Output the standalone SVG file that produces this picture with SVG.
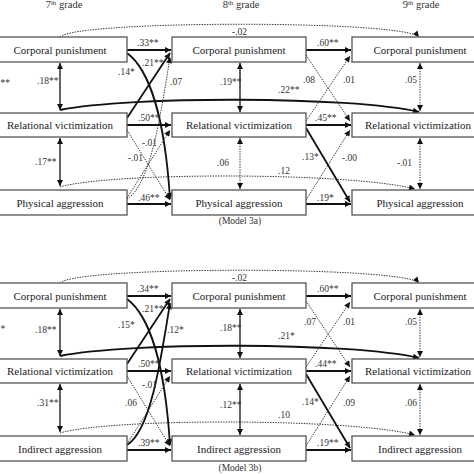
<svg xmlns="http://www.w3.org/2000/svg" width="474" height="474" viewBox="0 0 474 474">
<defs>
<marker id="ah" viewBox="0 0 10 10" refX="10" refY="5" markerWidth="7" markerHeight="6" markerUnits="userSpaceOnUse" orient="auto-start-reverse"><path d="M0,0 L10,5 L0,10 z" fill="#111"/></marker>
<style>
.box{fill:#fff;stroke:#555;stroke-width:1.3}
.lbl{font-family:"Liberation Serif","Times New Roman",serif;font-size:11px;fill:#222;text-anchor:middle}
.c{font-family:"Liberation Serif","Times New Roman",serif;font-size:9.5px;fill:#333}
.g{font-family:"Liberation Serif","Times New Roman",serif;font-size:10.5px;fill:#333;text-anchor:middle}
.th{fill:none;stroke:#111;stroke-width:1.8;marker-end:url(#ah)}
.tn{fill:none;stroke:#111;stroke-width:1.3;marker-end:url(#ah)}
.dt{fill:none;stroke:#333;stroke-width:1;stroke-dasharray:1.4 1.2;marker-end:url(#ah)}
.dbl{marker-start:url(#ah)}
</style>
</defs>
<rect width="474" height="474" fill="#fff"/>
<g id="headers">
<text class="g" x="64" y="8">7<tspan font-size="7" dy="-3">th</tspan><tspan dy="3"> grade</tspan></text>
<text class="g" x="241" y="8">8<tspan font-size="7" dy="-3">th</tspan><tspan dy="3"> grade</tspan></text>
<text class="g" x="421" y="8">9<tspan font-size="7" dy="-3">th</tspan><tspan dy="3"> grade</tspan></text>
</g>
<g id="model3a">
<g id="connectors-a">
<path class="dt" d="M60,37 C75,20 405,20 419,37"/>
<path class="th" d="M60,110 C130,96 350,96 419,112"/>
<path class="dt" d="M60,187 C110,172 350,172 415,189"/>
<path class="tn dbl" d="M60,63 V110"/>
<path class="tn dbl" d="M60,138 V186"/>
<path class="tn dbl" d="M240,63 V112"/>
<path class="dt dbl" d="M240,138 V189"/>
<path class="dt dbl" d="M420,63 V111"/>
<path class="dt dbl" d="M420,138 V189"/>
<path class="th" d="M127,50 H171"/>
<path class="th" d="M127,125 H171"/>
<path class="th" d="M127,204 H171"/>
<path class="th" d="M127,118 L170,53"/>
<path class="th" d="M127,53 C150,70 165,120 170,199"/>
<path class="dt" d="M127,199 C150,185 160,120 170,57"/>
<path class="dt" d="M127,130 L170,200"/>
<path class="dt" d="M127,198 L170,130"/>
<path class="th" d="M306,50 H351"/>
<path class="th" d="M306,125 H351"/>
<path class="th" d="M306,204 H351"/>
<path class="dt" d="M306,55 L350,121"/>
<path class="dt" d="M306,121 L350,56"/>
<path class="th" d="M306,128 L350,202"/>
<path class="dt" d="M306,200 L350,130"/>
</g>
<g id="cp1a"><rect class="box" x="-2" y="37" width="129" height="25"/><text class="lbl" x="60" y="53.5">Corporal punishment</text></g>
<g id="rv1a"><rect class="box" x="-2" y="113" width="129" height="24"/><text class="lbl" x="60" y="129">Relational victimization</text></g>
<g id="pa1a"><rect class="box" x="-2" y="190" width="129" height="25"/><text class="lbl" x="60" y="206.5">Physical aggression</text></g>
<g id="cp2a"><rect class="box" x="172" y="37" width="134" height="25"/><text class="lbl" x="239" y="53.5">Corporal punishment</text></g>
<g id="rv2a"><rect class="box" x="172" y="113" width="134" height="24"/><text class="lbl" x="239" y="129">Relational victimization</text></g>
<g id="pa2a"><rect class="box" x="172" y="190" width="134" height="25"/><text class="lbl" x="239" y="206.5">Physical aggression</text></g>
<g id="cp3a"><rect class="box" x="352" y="37" width="126" height="25"/><text class="lbl" x="420" y="53.5">Corporal punishment</text></g>
<g id="rv3a"><rect class="box" x="352" y="113" width="126" height="24"/><text class="lbl" x="418" y="129" font-size="10.5">Relational victimization</text></g>
<g id="pa3a"><rect class="box" x="352" y="190" width="126" height="25"/><text class="lbl" x="420" y="206.5">Physical aggression</text></g>
<g id="labels-a">
<text class="c" x="0.5" y="86">**</text>
<text class="c" x="232" y="35">-.02</text>
<text class="c" x="37" y="84">.18**</text>
<text class="c" x="137" y="46">.33**</text>
<text class="c" x="142" y="66">.21**</text>
<text class="c" x="118" y="75">.14*</text>
<text class="c" x="170" y="85">.07</text>
<text class="c" x="220" y="85">.19**</text>
<text class="c" x="278" y="93">.22**</text>
<text class="c" x="317" y="46">.60**</text>
<text class="c" x="303" y="83">.08</text>
<text class="c" x="343" y="83">.01</text>
<text class="c" x="405" y="83">.05</text>
<text class="c" x="138" y="121">.50**</text>
<text class="c" x="142" y="146">-.01</text>
<text class="c" x="128" y="161">-.01</text>
<text class="c" x="35" y="165">.17**</text>
<text class="c" x="217" y="166">.06</text>
<text class="c" x="278" y="174">.12</text>
<text class="c" x="302" y="160">.13*</text>
<text class="c" x="315" y="121">.45**</text>
<text class="c" x="342" y="161">-.00</text>
<text class="c" x="397" y="166">-.01</text>
<text class="c" x="138" y="201">.46**</text>
<text class="c" x="317" y="201">.19*</text>
<text class="c" x="240" y="224" text-anchor="middle" font-size="9">(Model 3a)</text>
</g>
</g>
<g id="model3b">
<g id="connectors-b" transform="translate(0,246)">
<path class="dt" d="M60,37 C75,20 405,20 419,37"/>
<path class="th" d="M60,110 C130,96 350,96 419,112"/>
<path class="dt" d="M60,187 C110,172 350,172 415,189"/>
<path class="tn dbl" d="M60,63 V110"/>
<path class="tn dbl" d="M60,138 V186"/>
<path class="tn dbl" d="M240,63 V112"/>
<path class="tn dbl" d="M240,138 V189"/>
<path class="dt dbl" d="M420,63 V111"/>
<path class="dt dbl" d="M420,138 V189"/>
<path class="th" d="M127,50 H171"/>
<path class="th" d="M127,125 H171"/>
<path class="th" d="M127,204 H171"/>
<path class="th" d="M127,118 L170,53"/>
<path class="th" d="M127,53 C150,70 165,120 170,199"/>
<path class="th" d="M127,199 C150,185 160,120 170,57"/>
<path class="dt" d="M127,130 L170,200"/>
<path class="dt" d="M127,198 L170,130"/>
<path class="th" d="M306,50 H351"/>
<path class="th" d="M306,125 H351"/>
<path class="th" d="M306,204 H351"/>
<path class="dt" d="M306,55 L350,121"/>
<path class="dt" d="M306,121 L350,56"/>
<path class="th" d="M306,128 L350,202"/>
<path class="dt" d="M306,200 L350,130"/>
</g>
<g id="cp1b"><rect class="box" x="-2" y="283" width="129" height="25"/><text class="lbl" x="60" y="299.5">Corporal punishment</text></g>
<g id="rv1b"><rect class="box" x="-2" y="359" width="129" height="24"/><text class="lbl" x="60" y="375">Relational victimization</text></g>
<g id="ia1b"><rect class="box" x="-2" y="436" width="129" height="25"/><text class="lbl" x="60" y="452.5">Indirect aggression</text></g>
<g id="cp2b"><rect class="box" x="172" y="283" width="134" height="25"/><text class="lbl" x="239" y="299.5">Corporal punishment</text></g>
<g id="rv2b"><rect class="box" x="172" y="359" width="134" height="24"/><text class="lbl" x="239" y="375">Relational victimization</text></g>
<g id="ia2b"><rect class="box" x="172" y="436" width="134" height="25"/><text class="lbl" x="239" y="452.5">Indirect aggression</text></g>
<g id="cp3b"><rect class="box" x="352" y="283" width="126" height="25"/><text class="lbl" x="420" y="299.5">Corporal punishment</text></g>
<g id="rv3b"><rect class="box" x="352" y="359" width="126" height="24"/><text class="lbl" x="418" y="375" font-size="10.5">Relational victimization</text></g>
<g id="ia3b"><rect class="box" x="352" y="436" width="126" height="25"/><text class="lbl" x="420" y="452.5">Indirect aggression</text></g>
<g id="labels-b">
<text class="c" x="0.5" y="332">*</text>
<text class="c" x="232" y="281">-.02</text>
<text class="c" x="35" y="333">.18**</text>
<text class="c" x="137" y="292">.34**</text>
<text class="c" x="142" y="312">.21**</text>
<text class="c" x="118" y="328">.15*</text>
<text class="c" x="167" y="333">.12*</text>
<text class="c" x="220" y="331">.18**</text>
<text class="c" x="278" y="339">.21*</text>
<text class="c" x="317" y="292">.60**</text>
<text class="c" x="304" y="325">.07</text>
<text class="c" x="343" y="325">.01</text>
<text class="c" x="405" y="325">.05</text>
<text class="c" x="138" y="367">.50**</text>
<text class="c" x="142" y="388">-.01</text>
<text class="c" x="125" y="406">.06</text>
<text class="c" x="37" y="406">.31**</text>
<text class="c" x="220" y="408">.12**</text>
<text class="c" x="278" y="418">.10</text>
<text class="c" x="302" y="405">.14*</text>
<text class="c" x="315" y="367">.44**</text>
<text class="c" x="343" y="406">.09</text>
<text class="c" x="405" y="406">.06</text>
<text class="c" x="138" y="446">.39**</text>
<text class="c" x="317" y="446">.19**</text>
<text class="c" x="240" y="471" text-anchor="middle" font-size="9">(Model 3b)</text>
</g>
</g>
</svg>
